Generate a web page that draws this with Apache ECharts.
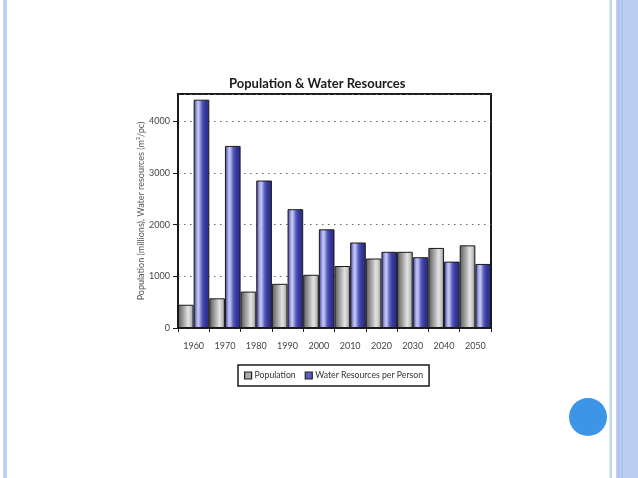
<!DOCTYPE html>
<html>
<head>
<meta charset="utf-8">
<script src="https://cdn.jsdelivr.net/npm/echarts@6/dist/echarts.min.js"></script>
<style>
html,body{margin:0;padding:0;background:#fff;}
#chart{width:638px;height:478px;}
</style>
</head>
<body>
<div id="chart"></div>
<script>
const categories = ['1960','1970','1980','1990','2000','2010','2020','2030','2040','2050'];
const population = [450, 575, 705, 855, 1030, 1200, 1345, 1475, 1550, 1600];
const waterPerPerson = [4420, 3525, 2855, 2300, 1910, 1655, 1475, 1370, 1285, 1240];
const yTicks = [0, 1000, 2000, 3000, 4000];
const seriesNames = ['Population', 'Water Resources per Person'];

const FONT = 'Lato';
const greyGrad = {type:'linear',x:0,y:0,x2:1,y2:0,colorStops:[
  {offset:0,color:'#5a5a5a'},{offset:0.35,color:'#a2a2a2'},{offset:0.65,color:'#e4e4e4'},{offset:0.85,color:'#bdbdbd'},{offset:1,color:'#727272'}]};
const blueGrad = {type:'linear',x:0,y:0,x2:1,y2:0,colorStops:[
  {offset:0,color:'#34378f'},{offset:0.22,color:'#aeb2ec'},{offset:0.32,color:'#c4c7f4'},{offset:0.55,color:'#5256b6'},{offset:0.75,color:'#33369a'},{offset:1,color:'#2a2c82'}]};

const chart = echarts.init(document.getElementById('chart'), null, {renderer:'canvas'});
chart.setOption({
  backgroundColor:'#ffffff',
  animation:false,
  title:{
    text:'Population & Water Resources',
    left:224, top:72,
    textStyle:{fontFamily:FONT,fontWeight:'bold',fontSize:13,color:'#1a1a1a'}
  },
  grid:{left:178, right:147, top:94, bottom:150, show:true, borderColor:'#1a1a1a', borderWidth:2, backgroundColor:'transparent'},
  legend:{
    left:238, top:365,
    padding:[6,6,6,6],
    borderColor:'#1a1a1a', borderWidth:1.5,
    itemWidth:7, itemHeight:7, itemGap:9,
    textStyle:{fontFamily:FONT,fontSize:8.7,color:'#333',padding:[0,0,0,-2]},
    data:[
      {name:seriesNames[0], icon:'rect', itemStyle:{color:'#aaaaaa',borderColor:'#222',borderWidth:1.2}},
      {name:seriesNames[1], icon:'rect', itemStyle:{color:'#5a5ec0',borderColor:'#222',borderWidth:1.2}}
    ]
  },
  xAxis:{
    type:'category',
    data:categories,
    axisLine:{lineStyle:{color:'#1a1a1a',width:1.5}},
    axisTick:{show:true,length:4,lineStyle:{color:'#1a1a1a',width:1}},
    axisLabel:{fontFamily:FONT,fontSize:9,color:'#444',margin:14},
    splitLine:{show:false}
  },
  yAxis:{
    type:'value',
    min:0, max:4530, interval:1000,
    name:'Population (millions), Water resources (m³/pc)',
    nameLocation:'middle', nameRotate:90, nameGap:32,
    nameTextStyle:{fontFamily:FONT,fontSize:9,color:'#555'},
    axisLine:{show:true,lineStyle:{color:'#1a1a1a',width:1.5}},
    axisTick:{show:true,length:5,lineStyle:{color:'#1a1a1a',width:1}},
    axisLabel:{fontFamily:FONT,fontSize:9,color:'#444',margin:8,showMaxLabel:false,
      formatter:function(v){return yTicks.indexOf(v)>=0?String(v):'';}},
    splitLine:{show:true,lineStyle:{color:'#666',width:1.2,type:[1.5,4.5]}}
  },
  series:[
    {name:seriesNames[0],type:'bar',data:population,barGap:'0%',barCategoryGap:'0%',
      itemStyle:{color:greyGrad,borderColor:'#1a1a1a',borderWidth:1}},
    {name:seriesNames[1],type:'bar',data:waterPerPerson,barGap:'0%',barCategoryGap:'0%',
      itemStyle:{color:blueGrad,borderColor:'#1a1a1a',borderWidth:1}}
  ],
  graphic:[
    {type:'rect',shape:{x:3,y:0,width:4,height:478},style:{fill:'#c9d8f2'},silent:true},
    {type:'rect',shape:{x:4.5,y:0,width:1.5,height:478},style:{fill:'#b3c8ec'},silent:true},
    {type:'rect',shape:{x:609.5,y:0,width:2.5,height:478},style:{fill:'#c5d5f2'},silent:true},
    {type:'rect',shape:{x:616,y:0,width:22,height:478},style:{fill:'#bccff3'},silent:true},
    {type:'rect',shape:{x:618,y:0,width:1.5,height:478},style:{fill:'#a6bde9'},silent:true},
    {type:'rect',shape:{x:621.5,y:0,width:1.5,height:478},style:{fill:'#a9c0ea'},silent:true},
    {type:'circle',shape:{cx:588,cy:417,r:19},style:{fill:'#3d95e8'},silent:true}
  ]
});
</script>
</body>
</html>
